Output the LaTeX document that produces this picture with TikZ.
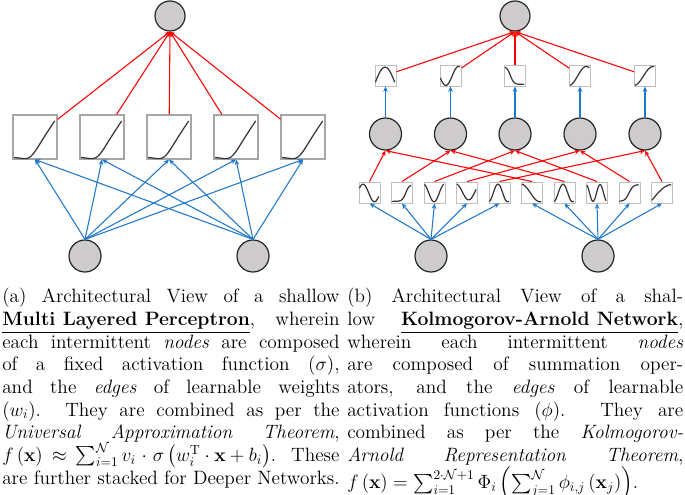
\documentclass[tikz,border=0pt]{standalone}
\usepackage{amsmath,amssymb}
\usetikzlibrary{arrows.meta}
\definecolor{nodegray}{RGB}{205,203,204}
\definecolor{edgeblue}{RGB}{30,120,205}
\newcommand{\actcurve}[3]{%
  \begin{scope}[shift={(#1.south west)}]
    \draw[curve] plot[domain=0.04:0.96,samples=40] ({\x*#2},{-(#3)*#2});
  \end{scope}}
\begin{document}
\begin{tikzpicture}[x=0.75pt,y=-0.75pt]
\tikzstyle{neuron}=[circle,draw=black!85,fill=nodegray,line width=0.9pt,minimum size=22.5pt,inner sep=0pt]
\tikzstyle{actbig}=[rectangle,draw=black!35,fill=white,line width=0.8pt,minimum size=33pt,inner sep=0pt]
\tikzstyle{actsmall}=[rectangle,draw=black!25,fill=white,line width=0.7pt,minimum size=15.75pt,inner sep=0pt]
\tikzstyle{curve}=[black!80,line width=0.9pt,line join=round]
\tikzstyle{redge}=[red,line width=0.8pt,-{Stealth[length=4pt,width=3.5pt]}]
\tikzstyle{bedge}=[edgeblue,line width=0.8pt,-{Stealth[length=4pt,width=3.5pt]}]
\tikzstyle{caption}=[text width=253pt,align=justify,anchor=north west,inner sep=0pt,
      font=\fontsize{14.5}{17}\selectfont]
\useasboundingbox (0,0) rectangle (685,495);
% (a) MLP
\node[neuron] (M_out) at (170,16) {};
\node[actbig] (M_1) at (35,137) {};
\node[actbig] (M_2) at (102,137) {};
\node[actbig] (M_3) at (169,137) {};
\node[actbig] (M_4) at (236,137) {};
\node[actbig] (M_5) at (303,137) {};
\node[neuron,minimum size=24pt] (M_in1) at (85,256) {};
\node[neuron,minimum size=24pt] (M_in2) at (253,256) {};
\foreach \i in {1,...,5}{
  \actcurve{M_\i}{44}{(6*\x-2.4)/(1+exp(-1.702*(6*\x-2.4)))/4.1+0.06}
  \draw[redge] (M_\i) -- (M_out.south);
  \draw[bedge] (M_in1.north) -- (M_\i.south);
  \draw[bedge] (M_in2.north) -- (M_\i.south);
}
% (b) KAN
\node[neuron] (K_out) at (515,16) {};
\node[actsmall] (T_1) at (385.5,75.5) {};
\node[actsmall] (T_2) at (450.5,75.5) {};
\node[actsmall] (T_3) at (515,75.5) {};
\node[actsmall] (T_4) at (580,75.5) {};
\node[actsmall] (T_5) at (645,75.5) {};
\node[neuron,minimum size=24pt] (S_1) at (385.5,134) {};
\node[neuron,minimum size=24pt] (S_2) at (450.5,134) {};
\node[neuron,minimum size=24pt] (S_3) at (515,134) {};
\node[neuron,minimum size=24pt] (S_4) at (580,134) {};
\node[neuron,minimum size=24pt] (S_5) at (645,134) {};
\foreach \i/\xx in {1/369.5,2/402,3/434.5,4/467,5/499.5,6/532,7/564.5,8/597,9/629.5,10/662}
  \node[actsmall] (B_\i) at (\xx,192.5) {};
\node[neuron,minimum size=24pt] (K_in1) at (431,256) {};
\node[neuron,minimum size=24pt] (K_in2) at (598,256) {};
\actcurve{T_1}{21}{0.1+0.82*sin(180*\x)}
\actcurve{T_2}{21}{0.5-0.45*sin(300*\x)}
\actcurve{T_3}{21}{0.1+0.85/(1+exp(12*(\x-0.3)))}
\actcurve{T_4}{21}{0.5-0.45*cos(220*\x)}
\actcurve{T_5}{21}{0.5-0.45*cos(200*\x)}
\actcurve{B_1}{21}{0.5+0.42*sin(330*\x+20)}
\actcurve{B_2}{21}{0.1+0.8/(1+exp(-12*(\x-0.7)))}
\actcurve{B_3}{21}{0.5+0.42*cos(360*\x)}
\actcurve{B_4}{21}{0.55+0.38*cos(300*\x)}
\actcurve{B_5}{21}{0.5-0.42*cos(400*\x)}
\actcurve{B_6}{21}{0.5+0.42*cos(200*\x)}
\actcurve{B_7}{21}{0.5-0.42*cos(400*\x)}
\actcurve{B_8}{21}{0.5+0.4*cos(540*\x)}
\actcurve{B_9}{21}{0.1+0.8/(1+exp(-10*(\x-0.5)))}
\actcurve{B_10}{21}{0.1+0.8*sin(90*\x)}
\foreach \i in {1,...,5}{
  \draw[redge] (T_\i) -- (K_out.south);
  \draw[bedge] (S_\i) -- (T_\i);
  \pgfmathtruncatemacro{\j}{\i+5}
  \draw[redge] (B_\i.north) -- (S_\i.south);
  \draw[redge] (B_\j.north) -- (S_\i.south);
  \draw[bedge] (K_in1.north) -- (B_\i.south);
  \draw[bedge] (K_in2.north) -- (B_\j.south);
}
% captions
\node[caption] (capA) at (2,288) {%
(a) Architectural View of a shallow\linebreak
\underline{\textbf{Multi Layered Perceptron}}, wherein\linebreak
each intermittent \emph{nodes} are composed\linebreak
of a fixed activation function ($\sigma$),\linebreak
and the \emph{edges} of learnable weights\linebreak
($w_i$). They are combined as per the\linebreak
\emph{Universal Approximation Theorem},\linebreak
$f\left(\mathbf{x}\right) \approx \sum_{i=1}^{\mathcal{N}} v_i\cdot\sigma\left(w_i^{\mathrm{T}}\cdot\mathbf{x}+b_i\right)$. These\linebreak
are further stacked for Deeper Networks.};
\node[caption,text width=252pt] (capB) at (347,288) {%
(b) Architectural View of a shal-\linebreak
low \underline{\textbf{Kolmogorov-Arnold Network}},\linebreak
wherein each intermittent \emph{nodes}\linebreak
are composed of summation oper-\linebreak
ators, and the \emph{edges} of learnable\linebreak
activation functions ($\phi$). They are\linebreak
combined as per the \emph{Kolmogorov-}\linebreak
\emph{Arnold Representation Theorem},\linebreak
$f\left(\mathbf{x}\right) = \sum_{i=1}^{2\cdot\mathcal{N}+1}\Phi_i\left(\sum_{j=1}^{\mathcal{N}}\phi_{i,j}\left(\mathbf{x}_j\right)\right)$.};
\end{tikzpicture}
\end{document}
